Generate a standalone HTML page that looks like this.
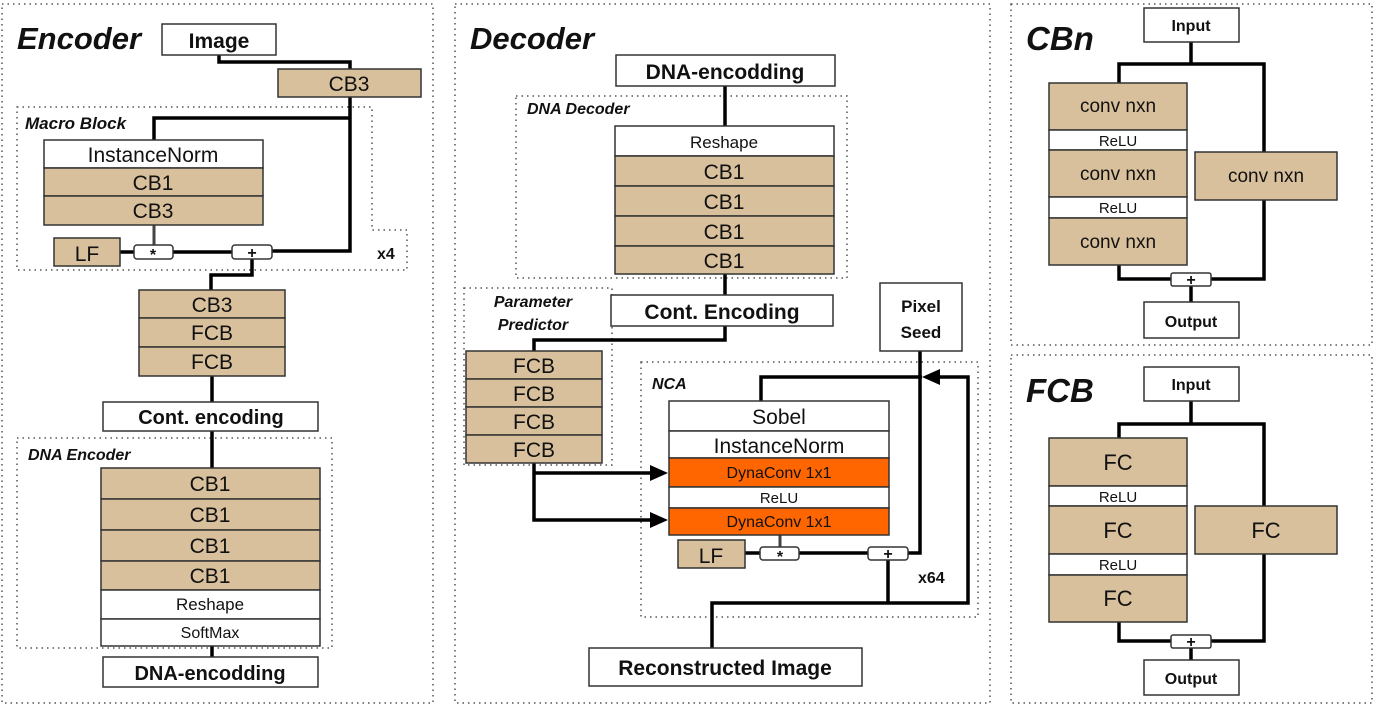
<!DOCTYPE html>
<html><head><meta charset="utf-8"><style>
body{margin:0;background:#fff}
svg{display:block}
text{font-family:"Liberation Sans",Arial,sans-serif;fill:#111}
.b{font-weight:bold}
.bi{font-weight:bold;font-style:italic}
.t{fill:#d9c09c;stroke:#333;stroke-width:1.5}
.w{fill:#fff;stroke:#333;stroke-width:1.5}
.o{fill:#ff6600;stroke:#333;stroke-width:1.5}
.l{fill:none;stroke:#000;stroke-width:3.5}
.d{fill:none;stroke:#555;stroke-width:1.5;stroke-dasharray:1.5 4}
</style></head><body>
<svg width="1376" height="706" viewBox="0 0 1376 706">
<!-- panels -->
<rect class="d" x="2" y="4" width="431" height="699"/>
<rect class="d" x="455" y="4" width="535" height="699"/>
<rect class="d" x="1011" y="4" width="361" height="341"/>
<rect class="d" x="1011" y="355" width="361" height="348"/>

<!-- ENCODER -->
<text x="17" y="49" class="bi" font-size="31">Encoder</text>
<path class="d" d="M17,107 H372 V230 H407 V270 H17 Z"/>
<text x="25" y="129" class="bi" font-size="17">Macro Block</text>
<path class="d" d="M17,438 H332 V648 H17 Z"/>
<text x="28" y="460" class="bi" font-size="16">DNA Encoder</text>

<path class="l" d="M219,55 V62 H350 V251 H272"/>
<path class="l" d="M350,118 H154 V140"/>
<path class="l" d="M120,252 H134 M173,252 H232"/>
<path class="l" d="M252,259 V275 H211 V290"/>
<path class="l" d="M212,376 V402 M212,431 V468 M212,646 V657"/>
<path d="M154,225 V245" stroke="#444" stroke-width="3"/>

<rect class="w" x="162" y="24" width="114" height="31"/>
<text x="219" y="48" class="b" font-size="21" text-anchor="middle">Image</text>
<rect class="t" x="278" y="69" width="143" height="28"/>
<text x="349" y="91" font-size="21" text-anchor="middle">CB3</text>

<rect class="w" x="44" y="140" width="219" height="28"/>
<text x="153" y="162" font-size="21" text-anchor="middle">InstanceNorm</text>
<rect class="t" x="44" y="168" width="219" height="28"/>
<text x="153" y="190" font-size="21" text-anchor="middle">CB1</text>
<rect class="t" x="44" y="196" width="219" height="29"/>
<text x="153" y="218" font-size="21" text-anchor="middle">CB3</text>

<rect class="t" x="54" y="238" width="66" height="28"/>
<text x="87" y="261" font-size="21" text-anchor="middle">LF</text>
<rect class="w" x="134" y="245" width="39" height="14" rx="3"/>
<text x="153" y="260" class="b" font-size="16" text-anchor="middle">*</text>
<rect class="w" x="232" y="245" width="40" height="14" rx="3"/>
<text x="252" y="258" class="b" font-size="16" text-anchor="middle">+</text>
<text x="377" y="259" class="b" font-size="16">x4</text>

<rect class="t" x="139" y="290" width="146" height="28"/>
<text x="212" y="312" font-size="21" text-anchor="middle">CB3</text>
<rect class="t" x="139" y="318" width="146" height="29"/>
<text x="212" y="340" font-size="21" text-anchor="middle">FCB</text>
<rect class="t" x="139" y="347" width="146" height="29"/>
<text x="212" y="369" font-size="21" text-anchor="middle">FCB</text>

<rect class="w" x="103" y="402" width="215" height="29"/>
<text x="211" y="424" class="b" font-size="20" text-anchor="middle">Cont. encoding</text>

<rect class="t" x="101" y="468" width="219" height="31"/>
<text x="210" y="491" font-size="21" text-anchor="middle">CB1</text>
<rect class="t" x="101" y="499" width="219" height="31"/>
<text x="210" y="522" font-size="21" text-anchor="middle">CB1</text>
<rect class="t" x="101" y="530" width="219" height="31"/>
<text x="210" y="553" font-size="21" text-anchor="middle">CB1</text>
<rect class="t" x="101" y="561" width="219" height="29"/>
<text x="210" y="583" font-size="21" text-anchor="middle">CB1</text>
<rect class="w" x="101" y="590" width="219" height="29"/>
<text x="210" y="610" font-size="17" text-anchor="middle">Reshape</text>
<rect class="w" x="101" y="619" width="219" height="27"/>
<text x="210" y="638" font-size="16" text-anchor="middle">SoftMax</text>
<rect class="w" x="103" y="657" width="215" height="30"/>
<text x="210" y="680" class="b" font-size="20" text-anchor="middle">DNA-encodding</text>

<!-- DECODER -->
<text x="470" y="49" class="bi" font-size="31">Decoder</text>
<path class="d" d="M516,96 H847 V278 H516 Z"/>
<text x="527" y="114" class="bi" font-size="16">DNA Decoder</text>
<path class="d" d="M464,288 H612 V465 H464 Z"/>
<text x="533" y="307" class="bi" font-size="16" text-anchor="middle">Parameter</text>
<text x="533" y="330" class="bi" font-size="16" text-anchor="middle">Predictor</text>
<path class="d" d="M641,362 H978 V617 H641 Z"/>
<text x="652" y="389" class="bi" font-size="16">NCA</text>

<path class="l" d="M725,86 V126 M725,274 V295"/>
<path class="l" d="M725,326 V340 H534 V351"/>
<path class="l" d="M534,463 V473 H650 M534,473 V520 H650"/>
<polygon points="668,473 650,465 650,481" fill="#000"/>
<polygon points="668,520 650,512 650,528" fill="#000"/>
<path class="l" d="M761,401 V377 H922 M940,377 H968 V603 H712 V648"/>
<polygon points="922,377 940,369 940,385" fill="#000"/>
<path class="l" d="M920,351 V553 H908 M888,560 V603"/>
<path class="l" d="M745,553 H760 M799,553 H868"/>
<path d="M780,535 V547" stroke="#444" stroke-width="3"/>

<rect class="w" x="616" y="55" width="219" height="31"/>
<text x="725" y="79" class="b" font-size="21" text-anchor="middle">DNA-encodding</text>
<rect class="w" x="615" y="126" width="219" height="30"/>
<text x="724" y="148" font-size="17" text-anchor="middle">Reshape</text>
<rect class="t" x="615" y="156" width="219" height="30"/>
<text x="724" y="179" font-size="21" text-anchor="middle">CB1</text>
<rect class="t" x="615" y="186" width="219" height="30"/>
<text x="724" y="209" font-size="21" text-anchor="middle">CB1</text>
<rect class="t" x="615" y="216" width="219" height="30"/>
<text x="724" y="239" font-size="21" text-anchor="middle">CB1</text>
<rect class="t" x="615" y="246" width="219" height="28"/>
<text x="724" y="268" font-size="21" text-anchor="middle">CB1</text>
<rect class="w" x="611" y="295" width="222" height="31"/>
<text x="722" y="319" class="b" font-size="21" text-anchor="middle">Cont. Encoding</text>

<rect class="t" x="466" y="351" width="136" height="28"/>
<text x="534" y="373" font-size="21" text-anchor="middle">FCB</text>
<rect class="t" x="466" y="379" width="136" height="28"/>
<text x="534" y="401" font-size="21" text-anchor="middle">FCB</text>
<rect class="t" x="466" y="407" width="136" height="28"/>
<text x="534" y="429" font-size="21" text-anchor="middle">FCB</text>
<rect class="t" x="466" y="435" width="136" height="28"/>
<text x="534" y="457" font-size="21" text-anchor="middle">FCB</text>

<rect class="w" x="880" y="283" width="82" height="68"/>
<text x="921" y="312" class="b" font-size="17" text-anchor="middle">Pixel</text>
<text x="921" y="338" class="b" font-size="17" text-anchor="middle">Seed</text>

<rect class="w" x="669" y="401" width="220" height="30"/>
<text x="779" y="424" font-size="21" text-anchor="middle">Sobel</text>
<rect class="w" x="669" y="431" width="220" height="27"/>
<text x="779" y="453" font-size="21" text-anchor="middle">InstanceNorm</text>
<rect class="o" x="669" y="458" width="220" height="29"/>
<text x="779" y="478" font-size="16" text-anchor="middle">DynaConv 1x1</text>
<rect class="w" x="669" y="487" width="220" height="21"/>
<text x="779" y="503" font-size="15" text-anchor="middle">ReLU</text>
<rect class="o" x="669" y="508" width="220" height="27"/>
<text x="779" y="527" font-size="16" text-anchor="middle">DynaConv 1x1</text>

<rect class="t" x="678" y="540" width="67" height="28"/>
<text x="711" y="563" font-size="21" text-anchor="middle">LF</text>
<rect class="w" x="760" y="547" width="39" height="13" rx="3"/>
<text x="780" y="562" class="b" font-size="16" text-anchor="middle">*</text>
<rect class="w" x="868" y="547" width="40" height="13" rx="3"/>
<text x="888" y="559" class="b" font-size="16" text-anchor="middle">+</text>
<text x="918" y="583" class="b" font-size="16">x64</text>

<rect class="w" x="589" y="648" width="273" height="38"/>
<text x="725" y="675" class="b" font-size="21" text-anchor="middle">Reconstructed Image</text>

<!-- CBn -->
<text x="1026" y="50" class="bi" font-size="33">CBn</text>
<path class="l" d="M1191,42 V64 M1119,83 V64 H1264 V152 M1264,200 V279 H1211 M1171,279 H1119 V265 M1191,286 V302"/>
<rect class="w" x="1144" y="8" width="95" height="34"/>
<text x="1191" y="31" class="b" font-size="16" text-anchor="middle">Input</text>
<rect class="t" x="1049" y="83" width="138" height="47"/>
<text x="1118" y="112" font-size="19" text-anchor="middle">conv nxn</text>
<rect class="w" x="1049" y="130" width="138" height="20"/>
<text x="1118" y="146" font-size="15" text-anchor="middle">ReLU</text>
<rect class="t" x="1049" y="150" width="138" height="47"/>
<text x="1118" y="180" font-size="19" text-anchor="middle">conv nxn</text>
<rect class="w" x="1049" y="197" width="138" height="21"/>
<text x="1118" y="213" font-size="15" text-anchor="middle">ReLU</text>
<rect class="t" x="1049" y="218" width="138" height="47"/>
<text x="1118" y="248" font-size="19" text-anchor="middle">conv nxn</text>
<rect class="t" x="1195" y="152" width="142" height="48"/>
<text x="1266" y="182" font-size="19" text-anchor="middle">conv nxn</text>
<rect class="w" x="1171" y="273" width="40" height="13" rx="2"/>
<text x="1191" y="285" class="b" font-size="16" text-anchor="middle">+</text>
<rect class="w" x="1144" y="302" width="95" height="36"/>
<text x="1191" y="327" class="b" font-size="16" text-anchor="middle">Output</text>

<!-- FCB -->
<text x="1026" y="402" class="bi" font-size="33">FCB</text>
<path class="l" d="M1191,401 V424 M1119,438 V424 H1264 V506 M1264,554 V641 H1211 M1171,641 H1119 V622 M1191,648 V660"/>
<rect class="w" x="1144" y="367" width="95" height="34"/>
<text x="1191" y="390" class="b" font-size="16" text-anchor="middle">Input</text>
<rect class="t" x="1049" y="438" width="138" height="48"/>
<text x="1118" y="470" font-size="22" text-anchor="middle">FC</text>
<rect class="w" x="1049" y="486" width="138" height="20"/>
<text x="1118" y="502" font-size="15" text-anchor="middle">ReLU</text>
<rect class="t" x="1049" y="506" width="138" height="48"/>
<text x="1118" y="538" font-size="22" text-anchor="middle">FC</text>
<rect class="w" x="1049" y="554" width="138" height="21"/>
<text x="1118" y="570" font-size="15" text-anchor="middle">ReLU</text>
<rect class="t" x="1049" y="575" width="138" height="47"/>
<text x="1118" y="606" font-size="22" text-anchor="middle">FC</text>
<rect class="t" x="1195" y="506" width="142" height="48"/>
<text x="1266" y="538" font-size="22" text-anchor="middle">FC</text>
<rect class="w" x="1171" y="635" width="40" height="13" rx="2"/>
<text x="1191" y="647" class="b" font-size="16" text-anchor="middle">+</text>
<rect class="w" x="1144" y="660" width="95" height="35"/>
<text x="1191" y="684" class="b" font-size="16" text-anchor="middle">Output</text>
</svg>
</body></html>
